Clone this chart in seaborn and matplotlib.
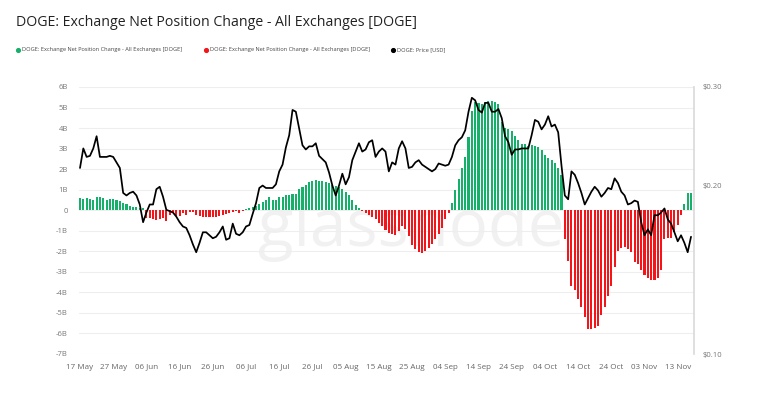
import numpy as np
import pandas as pd
import seaborn as sns
import matplotlib
matplotlib.use("Agg")
from matplotlib import pyplot as plt
from matplotlib.lines import Line2D
from matplotlib.ticker import NullLocator

sns.set_style("white")
plt.rcParams['font.family'] = ['Open Sans', 'DejaVu Sans']

start_date = "2021-05-17"

# daily exchange net position change, billions of DOGE
net_change_b = [
    0.6, 0.57, 0.6, 0.57, 0.49, 0.65, 0.65, 0.6, 0.49, 0.55, 0.55, 0.49, 0.44, 0.36, 0.28, 0.19, 0.16, 0.15, 0.11, 0.11,
    -0.37, -0.37, -0.45, -0.49, -0.45, -0.37, -0.53, -0.21, -0.13, -0.26, -0.26,
    -0.13, -0.21, -0.1, -0.1, -0.21, -0.29, -0.32, -0.32, -0.32, -0.32, -0.32, -0.29, -0.21, -0.16, -0.13, -0.1, -0.06, -0.13, -0.06,
    0.06, 0.1, 0.15, 0.2, 0.28, 0.4, 0.5, 0.65, 0.52, 0.48, 0.65, 0.65,
    0.74, 0.76, 0.8, 0.8, 1.05, 1.15, 1.25, 1.36, 1.42, 1.46, 1.42, 1.4, 1.36, 1.32, 1.25, 1.2, 1.12, 1.05, 0.9, 0.73, 0.5, 0.26, 0.12,
    -0.05, -0.13, -0.21, -0.32, -0.45, -0.61, -0.78, -0.94, -1.1, -1.18, -1.23, -1.02, -0.78, -0.9, -1.26, -1.67, -1.9, -2.04, -2.07, -2.0,
    -1.83, -1.62, -1.42, -1.18, -0.86, -0.45, -0.13,
    0.35, 1.0, 1.5, 2.05, 2.6, 3.56, 4.85, 5.26, 5.2, 5.18, 5.26, 5.3, 5.3, 5.26, 5.15, 4.29, 4.0, 3.96, 3.85, 3.6,
    3.4, 3.24, 3.24, 3.15, 3.18, 3.15, 3.07, 2.95, 2.7, 2.56, 2.45, 2.3, 2.05, 1.7,
    -1.4, -2.45, -3.7, -3.9, -4.3, -4.7, -5.2, -5.8, -5.8, -5.75, -5.65, -5.1, -4.7, -4.2, -3.7, -2.75, -2.0, -1.85,
    -1.8, -1.9, -2.05, -2.5, -2.6, -2.9, -3.15, -3.3, -3.4, -3.4, -3.3, -2.9, -1.4, -1.37, -1.35, -1.05, -0.7, -0.25,
    0.3, 0.85, 0.83,
]

# daily DOGE price, USD
price_usd = [
    0.215, 0.233, 0.225, 0.226, 0.233, 0.245, 0.225, 0.225, 0.225, 0.226, 0.225, 0.220, 0.215, 0.194, 0.192, 0.194,
    0.195, 0.192, 0.185, 0.172, 0.179, 0.185, 0.185, 0.197, 0.199, 0.191, 0.181, 0.180, 0.179, 0.176, 0.172, 0.169,
    0.168, 0.163, 0.157, 0.152, 0.158, 0.165, 0.165, 0.163, 0.161, 0.162, 0.165, 0.169, 0.160, 0.161, 0.171, 0.164,
    0.163, 0.165, 0.169, 0.170, 0.178, 0.186, 0.198, 0.200, 0.198, 0.198, 0.198, 0.201, 0.212, 0.218, 0.234, 0.246,
    0.273, 0.271, 0.253, 0.236, 0.232, 0.235, 0.235, 0.238, 0.226, 0.223, 0.220, 0.211, 0.200, 0.192, 0.200, 0.210,
    0.201, 0.207, 0.222, 0.230, 0.238, 0.230, 0.232, 0.239, 0.241, 0.225, 0.230, 0.233, 0.230, 0.212, 0.220, 0.218,
    0.233, 0.240, 0.233, 0.215, 0.216, 0.220, 0.222, 0.218, 0.216, 0.214, 0.212, 0.214, 0.219, 0.218, 0.217, 0.218,
    0.225, 0.236, 0.241, 0.244, 0.251, 0.271, 0.287, 0.284, 0.273, 0.270, 0.281, 0.281, 0.271, 0.271, 0.274, 0.264,
    0.245, 0.239, 0.227, 0.232, 0.232, 0.233, 0.233, 0.233, 0.246, 0.262, 0.260, 0.252, 0.257, 0.266, 0.255, 0.257,
    0.249, 0.217, 0.192, 0.189, 0.212, 0.209, 0.202, 0.194, 0.185, 0.190, 0.195, 0.199, 0.196, 0.191, 0.194, 0.198,
    0.197, 0.206, 0.202, 0.195, 0.192, 0.185, 0.186, 0.188, 0.187, 0.172, 0.163, 0.167, 0.163, 0.177, 0.177, 0.179,
    0.182, 0.174, 0.171, 0.165, 0.159, 0.163, 0.158, 0.152, 0.162,
]

left_ticks = list(range(-7, 7))
price_ticks = [0.10, 0.20, 0.30]

GREEN = "#17b06b"
RED = "#f2161b"
title = "DOGE: Exchange Net Position Change - All Exchanges [DOGE]"

dates = pd.date_range(start_date, periods=len(net_change_b), freq="D")
df = pd.DataFrame({
    "day": np.arange(len(dates)),
    "net": net_change_b,
    "price": price_usd[:len(dates)],
})
df["side"] = np.where(df["net"] >= 0, "up", "down")

fig = plt.figure(figsize=(7.73, 3.96), dpi=100)
ax = fig.add_axes([79 / 773, 1 - 354 / 396, 615 / 773, 267 / 396])

sns.barplot(data=df, x="day", y="net", hue="side", palette={"up": GREEN, "down": RED},
            dodge=False, width=0.62, errorbar=None, legend=False, saturation=1,
            linewidth=0, ax=ax)

# watermark
ax.text(0.54, 0.47, "glassnode", transform=ax.transAxes, ha="center", va="center",
        fontsize=47, color="#f1f1f1", zorder=0.5, family=["Open Sans", "DejaVu Sans"])

ax.set_ylim(-7, 6)
ax.set_yticks(left_ticks)
ax.set_yticklabels([("0" if v == 0 else f"{v}B") for v in left_ticks])
ax.set_axisbelow(True)
ax.grid(axis="y", color="#eeeeee", linewidth=0.8)
ax.grid(axis="x", visible=False)
ax.set_xlabel("")
ax.set_ylabel("")
tick_days = list(range(0, len(dates), 10))
ax.set_xticks(tick_days)
ax.set_xticklabels([dates[d].strftime("%d %b") for d in tick_days])
ax.tick_params(axis="y", length=0, labelsize=5.5, labelcolor="#777777", pad=8)
ax.tick_params(axis="x", length=3, color="#dddddd", labelsize=5.8, labelcolor="#666666", pad=4)
for s in ax.spines.values():
    s.set_visible(False)

ax2 = ax.twinx()
sns.lineplot(data=df, x="day", y="price", color="black", linewidth=1.25, ax=ax2)
ax2.set_yscale("log")
ax2.set_ylim(0.10, 0.30)
ax2.set_yticks(price_ticks)
ax2.set_yticklabels([f"${v:.2f}" for v in price_ticks])
ax2.yaxis.set_minor_locator(NullLocator())
ax2.set_ylabel("")
ax2.tick_params(axis="y", length=0, labelsize=5.5, labelcolor="#777777", pad=6)
for name, s in ax2.spines.items():
    s.set_visible(name == "right")
ax2.spines["right"].set_color("#d9d9d9")
ax2.spines["right"].set_linewidth(1.2)

ax.set_xlim(-0.3, 184.9)
ax2.set_xlim(-0.3, 184.9)

fig.text(16 / 773, 1 - 22 / 396, title, fontsize=10.2, va="center", color="#222222")

handles = [
    Line2D([], [], marker="o", linestyle="", color=GREEN, markersize=2.7, label=title),
    Line2D([], [], marker="o", linestyle="", color=RED, markersize=2.7, label=title),
    Line2D([], [], marker="o", linestyle="", color="black", markersize=2.7, label="DOGE: Price [USD]"),
]
fig.legend(handles=handles, loc="center left", bbox_to_anchor=(17 / 773, 1 - 50 / 396), ncol=3,
           frameon=False, fontsize=4.1, handlelength=0.4, handletextpad=0.5, columnspacing=3.9,
           borderaxespad=0, borderpad=0, labelcolor="#444444")

fig.savefig("out.png", dpi=100)
